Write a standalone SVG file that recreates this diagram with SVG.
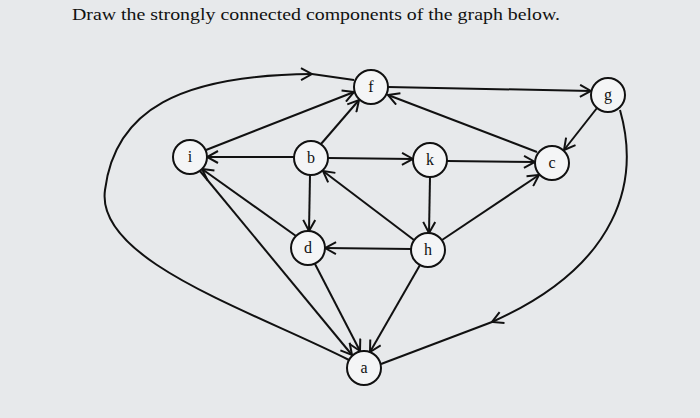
<svg xmlns="http://www.w3.org/2000/svg" width="700" height="418" viewBox="0 0 700 418">
<style>
.n circle{fill:#f4f5f6;stroke:#111;stroke-width:2}
.n text{font-family:"Liberation Serif",serif;font-size:16px;fill:#111;text-anchor:middle}
#edges path{fill:none;stroke:#111;stroke-width:2;marker-end:url(#ar)}
#edges path.p{marker-end:none}
</style>
<defs>
<marker id="ar" viewBox="0 0 14 14" refX="13" refY="7" markerWidth="14" markerHeight="14" markerUnits="userSpaceOnUse" orient="auto">
<path d="M2,1 L13,7 L2,13" fill="none" stroke="#111" stroke-width="2"/>
</marker>
</defs>
<rect width="700" height="418" fill="#e7e9eb"/>
<text x="72" y="20" font-family="Liberation Serif, serif" font-size="17" fill="#111" textLength="488" lengthAdjust="spacingAndGlyphs">Draw the strongly connected components of the graph below.</text>
<g id="edges">
<path d="M206,150 L354,92"/>
<path d="M321,144 L359,100"/>
<path d="M537,152 L388,95"/>
<path d="M388,87 L591,91"/>
<path d="M597,108 L564,150"/>
<path d="M294,157 L207,157"/>
<path d="M328,158 L413,159"/>
<path d="M447,161 L535,162"/>
<path d="M310,175 L309,231"/>
<path d="M414,240 L323,171"/>
<path d="M430,177 L429,233"/>
<path d="M411,249 L325,248"/>
<path d="M442,240 L539,175"/>
<path d="M296,236 L202,169"/>
<path d="M200,171 L352,355"/>
<path d="M315,264 L360,351"/>
<path d="M420,265 L370,352"/>
<path d="M349,360 C250,310 95,260 105,190 C115,110 180,75 312,74"/>
<path class="p" d="M312,74 L354,80"/>
<path d="M620,110 C640,180 620,265 492,322"/>
<path class="p" d="M492,322 L381,364"/>
</g>
<g id="f" class="n"><circle cx="371" cy="87" r="17"/><text x="371" y="92">f</text></g>
<g id="g" class="n"><circle cx="608" cy="95" r="17"/><text x="608" y="100">g</text></g>
<g id="i" class="n"><circle cx="190" cy="157" r="17"/><text x="190" y="162">i</text></g>
<g id="b" class="n"><circle cx="311" cy="158" r="17"/><text x="311" y="163">b</text></g>
<g id="k" class="n"><circle cx="430" cy="160" r="17"/><text x="430" y="165">k</text></g>
<g id="c" class="n"><circle cx="552" cy="163" r="17"/><text x="552" y="168">c</text></g>
<g id="d" class="n"><circle cx="308" cy="248" r="17"/><text x="308" y="253">d</text></g>
<g id="h" class="n"><circle cx="428" cy="250" r="17"/><text x="428" y="255">h</text></g>
<g id="a" class="n"><circle cx="364" cy="368" r="17"/><text x="364" y="373">a</text></g>
</svg>
